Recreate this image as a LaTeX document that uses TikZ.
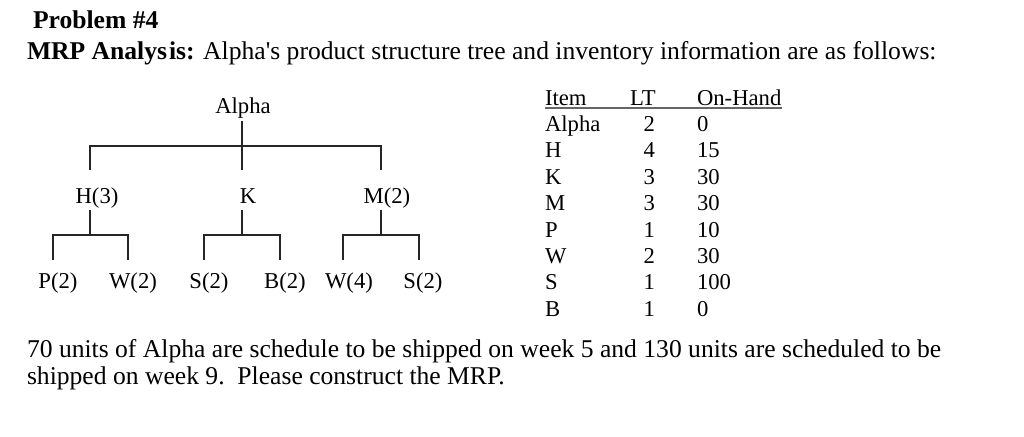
\documentclass[tikz,border=0pt]{standalone}
\usepackage{fontspec}
\setmainfont{Liberation Serif}
\begin{document}
\begin{tikzpicture}[x=0.75pt,y=-0.75pt,
  every node/.style={inner sep=0pt,outer sep=0pt,font=\fontsize{17}{20}\selectfont},
  big/.style={font=\fontsize{19.2}{23}\selectfont},
  lbl/.style={anchor=base},
  txt/.style={anchor=base west},
  tree/.style={line width=1.5pt,color=black!85}]
\useasboundingbox (0,0) rectangle (1024,436);
% headings
\node[txt,big] (prob) at (33,28) {\bfseries Problem \#4};
\node[txt,big] (head) at (27,59) {\textbf{MRP Analys\kern1.5pt is:} Alpha\textquotesingle s product structure tree and inventory information are as follows:};
% tree labels
\node[lbl] (alpha) at (243,113) {Alpha};
\node[lbl] (h) at (97,203) {H(3)};
\node[lbl] (k) at (248,203) {K};
\node[lbl] (m) at (387,203) {M(2)};
\node[lbl] (p2) at (58,288) {P(2)};
\node[lbl] (w2) at (133,288) {W(2)};
\node[lbl] (s2a) at (209,288) {S(2)};
\node[lbl] (b2) at (285,288) {B(2)};
\node[lbl] (w4) at (349,288) {W(4)};
\node[lbl] (s2b) at (423,288) {S(2)};
% connector points
\coordinate (a0) at (242,121);
\coordinate (hT) at (90,170);
\coordinate (kT) at (242,170);
\coordinate (mT) at (381,170);
\coordinate (h0) at (90,210);
\coordinate (k0) at (242,210);
\coordinate (m0) at (381,210);
\coordinate (pT) at (53,260);
\coordinate (wT) at (128,260);
\coordinate (saT) at (204,260);
\coordinate (bT) at (280,260);
\coordinate (w4T) at (343,260);
\coordinate (sbT) at (419,260);
\draw[tree] (a0) -- (kT);
\draw[tree] (hT) -- ++(0,-24) -| (mT);
\draw[tree] (h0) -- ++(0,25);
\draw[tree] (pT) -- ++(0,-25) -| (wT);
\draw[tree] (k0) -- ++(0,25);
\draw[tree] (saT) -- ++(0,-25) -| (bT);
\draw[tree] (m0) -- ++(0,25);
\draw[tree] (w4T) -- ++(0,-25) -| (sbT);
% table
\node[txt] (thItem) at (545,105) {Item};
\node[lbl] (thLT) at (643,105) {LT};
\node[txt] (thOH) at (697,105) {On-Hand};
\coordinate (ulL) at (545,108);
\coordinate (ulR) at (782,108);
\draw[line width=1pt,color=black!60] (ulL) -- (ulR);
\foreach \it/\lt/\oh [count=\i] in {Alpha/2/0,H/4/15,K/3/30,M/3/30,P/1/10,W/2/30,S/1/100,B/1/0}{
  \node[txt] (item\i) at (545,{105+26.4*\i}) {\it};
  \node[anchor=base east] (lt\i) at (655,{105+26.4*\i}) {\lt};
  \node[txt] (oh\i) at (697,{105+26.4*\i}) {\oh};
}
% bottom text
\node[txt,big] (foot1) at (27,357) {70 units of Alpha are schedule to be shipped on week 5 and 130 units are scheduled to be};
\node[txt,big] (foot2) at (27,384) {shipped on week 9.\ \ Please construct the MRP.};
\end{tikzpicture}
\end{document}
